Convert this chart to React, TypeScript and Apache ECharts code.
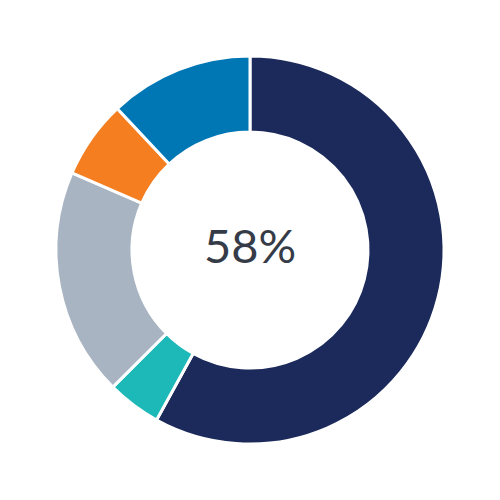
import { useEffect, useRef } from "react";
import * as echarts from "echarts";

const categories = ["Navy", "Teal", "Gray", "Orange", "Blue"];
const values = [58, 4.5, 19, 6.5, 12];
const colors = ["#1b2a5a", "#1db8b8", "#a8b4c2", "#f47e20", "#0077b5"];
const centerLabel = "58%";

const App = () => {
  const chartRef = useRef<HTMLDivElement>(null);

  useEffect(() => {
    if (!chartRef.current) {
      return;
    }
    const chart = echarts.init(chartRef.current, null, { renderer: "svg" });

    const option: echarts.EChartsOption = {
      animation: false,
      graphic: [
        {
          type: "text",
          x: 250,
          y: 245,
          style: {
            text: centerLabel,
            fontFamily: "Lato",
            fontSize: 47,
            fontWeight: 400,
            fill: "#363c47",
            align: "center",
            verticalAlign: "middle",
          },
        },
      ],
      series: [
        {
          type: "pie",
          center: [250, 250],
          radius: [118, 194],
          startAngle: 90,
          clockwise: true,
          label: { show: false },
          labelLine: { show: false },
          emphasis: { disabled: true },
          itemStyle: {
            borderColor: "#ffffff",
            borderWidth: 3,
          },
          data: categories.map((name, i) => ({
            name,
            value: values[i],
            itemStyle: { color: colors[i] },
          })),
        },
      ],
    };

    chart.setOption(option);

    return () => {
      chart.dispose();
    };
  }, []);

  return (
    <div
      ref={chartRef}
      style={{ position: "absolute", left: 0, top: 0, width: 500, height: 500 }}
    />
  );
};

export default App;
